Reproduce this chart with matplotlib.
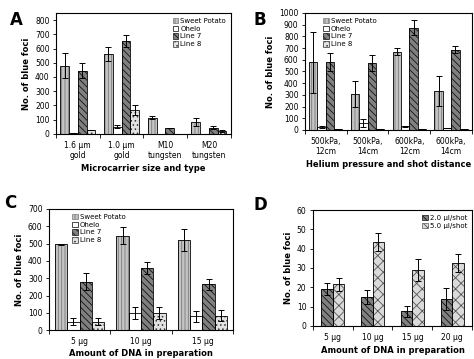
import numpy as np
import matplotlib
matplotlib.use("Agg")
import matplotlib.pyplot as plt

plt.rcParams["font.family"] = ["DejaVu Sans"]
plt.rcParams["hatch.linewidth"] = 0.6

# Panel A
a_groups = ["1.6 \u00b5m\ngold", "1.0 \u00b5m\ngold", "M10\ntungsten", "M20\ntungsten"]
a_sp = [480, 560, 115, 85]
a_sp_err = [85, 50, 10, 30]
a_oh = [8, 50, 0, 0]
a_oh_err = [0, 10, 0, 0]
a_l7 = [445, 652, 45, 45]
a_l7_err = [50, 40, 0, 8]
a_l8 = [30, 165, 0, 20]
a_l8_err = [0, 35, 0, 5]

# Panel B
b_groups = ["500kPa,\n12cm", "500kPa,\n14cm", "600kPa,\n12cm", "600kPa,\n14cm"]
b_sp = [580, 310, 670, 335]
b_sp_err = [260, 110, 30, 130]
b_oh = [25, 60, 30, 18]
b_oh_err = [5, 35, 8, 0]
b_l7 = [580, 570, 875, 685]
b_l7_err = [80, 70, 65, 30]
b_l8 = [10, 8, 8, 5]
b_l8_err = [0, 0, 0, 0]

# Panel C
c_groups = ["5 \u00b5g", "10 \u00b5g", "15 \u00b5g"]
c_sp = [495, 545, 520]
c_sp_err = [5, 50, 65]
c_oh = [50, 100, 80]
c_oh_err = [20, 35, 30]
c_l7 = [280, 360, 265]
c_l7_err = [50, 35, 30]
c_l8 = [50, 100, 85]
c_l8_err = [20, 35, 30]

# Panel D
d_groups = ["5 \u00b5g", "10 \u00b5g", "15 \u00b5g", "20 \u00b5g"]
d_2ul = [19, 15, 7.5, 14]
d_2ul_err = [3, 3.5, 3, 5.5]
d_5ul = [21.5, 43.5, 29, 32.5]
d_5ul_err = [3.5, 4.5, 5.5, 4.5]

line_names = ["Sweet Potato", "Ohelo", "Line 7", "Line 8"]

# (facecolor, hatch, hatch colour)
styles = {
    "Sweet Potato": ("#c4c4c4", "|||||", "#7a7a7a"),
    "Ohelo": ("white", "", "black"),
    "Line 7": ("#808080", "\\\\\\\\\\", "#111111"),
    "Line 8": ("#e2e2e2", "....", "#333333"),
    "2.0 \u00b5l/shot": ("#808080", "\\\\\\\\\\", "#111111"),
    "5.0 \u00b5l/shot": ("#dadada", "xxx", "#555555"),
}


def draw_bars(ax, x, vals, errs, name, width):
    fc, hatch, hc = styles[name]
    ax.bar(x, vals, width, color=fc, hatch=hatch, edgecolor=hc, lw=0, zorder=2)
    ax.bar(x, vals, width, fill=False, edgecolor="black", lw=0.6, zorder=3)
    ax.errorbar(x, vals, yerr=errs, fmt="none", ecolor="black", elinewidth=0.7,
                capsize=2, capthick=0.7, zorder=4)
    # proxy for legend
    return plt.Rectangle((0, 0), 1, 1, facecolor=fc, hatch=hatch, edgecolor=hc, lw=0.5)


def setup_axes(ax, groups, ymax, ystep, xlabel, labelpad=3):
    n = len(groups)
    ax.set_xlim(-0.5, n - 0.5)
    ax.set_ylim(0, ymax)
    ax.set_yticks(np.arange(0, ymax + 1, ystep))
    ax.set_xticks(np.arange(n))
    ax.set_xticklabels(groups, fontsize=5.5)
    ax.set_xticks(np.arange(n + 1) - 0.5, minor=True)
    ax.tick_params(axis="x", which="major", length=0, pad=5)
    ax.tick_params(axis="x", which="minor", length=3, width=0.6, direction="out")
    ax.tick_params(axis="y", labelsize=5.5, length=2.5, width=0.6, pad=2)
    for s in ax.spines.values():
        s.set_linewidth(0.8)
    ax.set_xlabel(xlabel, fontsize=6, fontweight="bold", labelpad=labelpad)
    ax.set_ylabel("No. of blue foci", fontsize=6, fontweight="bold", labelpad=3)


fig = plt.figure(figsize=(4.74, 3.59), dpi=100)

# A
ax = fig.add_axes([0.118, 0.627, 0.369, 0.337])
w = 0.2
x = np.arange(len(a_groups))
handles = []
data_a = [(a_sp, a_sp_err), (a_oh, a_oh_err), (a_l7, a_l7_err), (a_l8, a_l8_err)]
for i, (name, (v, e)) in enumerate(zip(line_names, data_a)):
    handles.append(draw_bars(ax, x + (i - 1.5) * w, v, e, name, w))
setup_axes(ax, a_groups, 850, 100, "Microcarrier size and type")
ax.set_yticks(np.arange(0, 801, 100))
ax.legend(handles, line_names, loc="upper right", fontsize=5, frameon=False,
          handlelength=0.8, handleheight=0.8, handletextpad=0.3, labelspacing=0.25,
          borderaxespad=0.3)

# B
ax = fig.add_axes([0.643, 0.638, 0.353, 0.326])
x = np.arange(len(b_groups))
handles = []
data_b = [(b_sp, b_sp_err), (b_oh, b_oh_err), (b_l7, b_l7_err), (b_l8, b_l8_err)]
for i, (name, (v, e)) in enumerate(zip(line_names, data_b)):
    handles.append(draw_bars(ax, x + (i - 1.5) * w, v, e, name, w))
setup_axes(ax, b_groups, 1000, 100, "Helium pressure and shot distance")
ax.legend(handles, line_names, loc="upper left", fontsize=5, frameon=False,
          handlelength=0.8, handleheight=0.8, handletextpad=0.3, labelspacing=0.25,
          borderaxespad=0.3, bbox_to_anchor=(0.08, 1.0))

# C
ax = fig.add_axes([0.103, 0.08, 0.389, 0.338])
x = np.arange(len(c_groups))
handles = []
data_c = [(c_sp, c_sp_err), (c_oh, c_oh_err), (c_l7, c_l7_err), (c_l8, c_l8_err)]
for i, (name, (v, e)) in enumerate(zip(line_names, data_c)):
    handles.append(draw_bars(ax, x + (i - 1.5) * w, v, e, name, w))
setup_axes(ax, c_groups, 700, 100, "Amount of DNA in preparation", labelpad=2)
ax.legend(handles, line_names, loc="upper left", fontsize=5, frameon=False,
          handlelength=0.8, handleheight=0.8, handletextpad=0.3, labelspacing=0.25,
          borderaxespad=0.3, bbox_to_anchor=(0.1, 1.0))

# D
ax = fig.add_axes([0.660, 0.092, 0.336, 0.323])
x = np.arange(len(d_groups))
wd = 0.29
handles = []
d_names = ["2.0 \u00b5l/shot", "5.0 \u00b5l/shot"]
data_d = [(d_2ul, d_2ul_err), (d_5ul, d_5ul_err)]
for i, (name, (v, e)) in enumerate(zip(d_names, data_d)):
    handles.append(draw_bars(ax, x + (i - 0.5) * wd, v, e, name, wd))
setup_axes(ax, d_groups, 60, 10, "Amount of DNA in preparation")
ax.legend(handles, d_names, loc="upper right", fontsize=5, frameon=False,
          handlelength=0.8, handleheight=0.8, handletextpad=0.3, labelspacing=0.25,
          borderaxespad=0.3)

# panel letters
for lbl, px, py in [("A", 0.02, 0.97), ("B", 0.535, 0.97), ("C", 0.008, 0.46), ("D", 0.535, 0.455)]:
    fig.text(px, py, lbl, fontsize=12, fontweight="bold", ha="left", va="top")

fig.savefig("out.png", dpi=100)
